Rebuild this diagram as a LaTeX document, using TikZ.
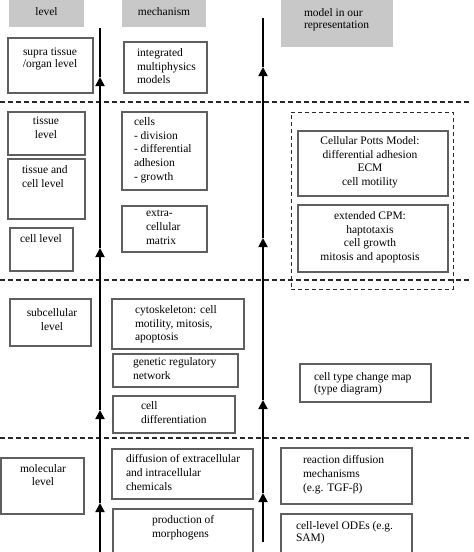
\documentclass[tikz,border=0pt]{standalone}
\usepackage{fontspec}
\setmainfont{Liberation Serif}
\usetikzlibrary{arrows.meta}
\definecolor{hdrgray}{RGB}{200,200,200}
\definecolor{boxgray}{RGB}{95,95,95}
\definecolor{dashgray}{RGB}{40,40,40}
\begin{document}
\begin{tikzpicture}[x=1pt,y=-1pt,
  every node/.style={inner sep=0pt,outer sep=0pt},
  box/.style={draw=boxgray,line width=1.1pt,anchor=north west},
  hdr/.style={fill=hdrgray,anchor=north west},
  txt/.style={font=\fontsize{11.5}{13.8}\selectfont,align=left,anchor=north west,execute at begin node={\strut}},
  ctxt/.style={font=\fontsize{11.5}{13.8}\selectfont,align=center,anchor=north,execute at begin node={\strut}},
  tight/.style={font=\fontsize{11.5}{12}\selectfont},
  sep/.style={draw=dashgray,line width=1.2pt,dash pattern=on 5pt off 3pt},
  cont/.style={draw=dashgray,line width=1pt,dash pattern=on 4pt off 3pt,anchor=north west},
  axisline/.style={line width=1.8pt},
  axis/.style={line width=1.8pt,-{Triangle[width=9pt,length=9pt]}}
]
\useasboundingbox (0,0) rectangle (474,552);
\clip (0,0) rectangle (474,552);

% separators
\coordinate (s1a) at (0,102); \coordinate (s1b) at (471,102);
\coordinate (s2a) at (0,280); \coordinate (s2b) at (471,280);
\coordinate (s3a) at (0,438); \coordinate (s3b) at (471,438);
\draw[sep] (s1a) -- (s1b);
\draw[sep] (s2a) -- (s2b);
\draw[sep] (s3a) -- (s3b);

% headers
\node[hdr,minimum width=75pt,minimum height=27pt] (hlev) at (9,0) {};
\node[ctxt] (hlevt) at (46.5,6.3) {level};
\node[hdr,minimum width=84pt,minimum height=27pt] (hmech) at (122,0) {};
\node[ctxt] (hmecht) at (164,6.3) {mechanism};
\node[hdr,minimum width=112pt,minimum height=47pt] (hmod) at (281,0) {};
\node[txt,tight] (hmodt) at (304,8.6) {model in our\\representation};

% level column
\node[box,minimum width=85pt,minimum height=55pt] (supra) at (8,38) {};
\node[ctxt,tight] (suprat) at (50,47.6) {supra tissue\\/organ level};
\node[box,minimum width=77pt,minimum height=43pt] (tissue) at (8,112) {};
\node[ctxt] (tissuet) at (46,117.3) {tissue\\level};
\node[box,minimum width=77pt,minimum height=60pt] (tcell) at (8,159) {};
\node[txt] (tcellt) at (22,165.3) {tissue and\\cell level};
\node[box,minimum width=63pt,minimum height=43pt] (cell) at (10,228) {};
\node[txt] (cellt) at (20,233.3) {cell level};
\node[box,minimum width=81pt,minimum height=47pt] (subc) at (10,299) {};
\node[ctxt] (subct) at (52,308.3) {subcellular\\level};
\node[box,minimum width=83pt,minimum height=56pt] (molec) at (1,458) {};
\node[ctxt,font=\fontsize{11.5}{13}\selectfont] (molect) at (43,464.3) {molecular\\level};

% mechanism column
\node[box,minimum width=83pt,minimum height=51pt] (integ) at (124,42) {};
\node[txt] (integt) at (137,48.3) {integrated\\multiphysics\\models};
\node[box,minimum width=85pt,minimum height=78pt] (cells) at (122,112) {};
\node[txt] (cellst) at (134,117.3) {cells\\- division\\- differential\\adhesion\\- growth};
\node[box,minimum width=85pt,minimum height=46pt] (ecm) at (122,206) {};
\node[txt] (ecmt) at (146,210.3) {extra-\\cellular\\matrix};
\node[box,minimum width=132pt,minimum height=50pt] (cyto) at (112,299) {};
\node[txt] (cytot) at (135,305.3) {cytoskeleton: cell\\motility, mitosis,\\apoptosis};
\node[box,minimum width=125pt,minimum height=33pt] (grn) at (113,354) {};
\node[txt] (grnt) at (133,357.3) {genetic regulatory\\network};
\node[box,minimum width=122pt,minimum height=37pt] (cdiff) at (113,396) {};
\node[txt] (cdifft) at (141,401.3) {cell\\differentiation};
\node[box,minimum width=141pt,minimum height=50pt] (chem) at (112,449) {};
\node[txt] (chemt) at (126,454.3) {diffusion of extracellular\\and intracellular\\chemicals};
\node[box,minimum width=140pt,minimum height=60pt] (morph) at (113,509) {};
\node[txt] (morpht) at (152,515.3) {production of\\morphogens};

% model column
\node[cont,minimum width=162pt,minimum height=177pt] (cpmgroup) at (291,112) {};
\node[box,minimum width=150pt,minimum height=65pt] (cpm) at (298,131) {};
\node[ctxt] (cpmt) at (370,136.3) {Cellular Potts Model:\\differential adhesion\\ECM\\cell motility};
\node[box,minimum width=150pt,minimum height=67pt] (ecpm) at (298,205) {};
\node[ctxt] (ecpmt) at (370,211.3) {extended CPM:\\haptotaxis\\cell growth\\mitosis and apoptosis};
\node[box,minimum width=131pt,minimum height=38pt] (ctmap) at (300,364) {};
\node[txt,tight] (ctmapt) at (314,372.6) {cell type change map\\(type diagram)};
\node[box,minimum width=131pt,minimum height=56pt] (rd) at (281,448) {};
\node[txt] (rdt) at (303,455.3) {reaction diffusion\\mechanisms\\(e.g. TGF-β)};
\node[box,minimum width=131pt,minimum height=60pt] (ode) at (281,514) {};
\node[txt,tight] (odet) at (296,521.6) {cell-level ODEs (e.g.\\SAM)};

% vertical scale arrows
\coordinate (Lb) at (100,552); \coordinate (L1) at (100,503);
\coordinate (L2) at (100,410); \coordinate (L3) at (100,248);
\coordinate (L4) at (100,77);  \coordinate (Lt) at (100,28);
\draw[axis] (Lb) -- (L1);
\draw[axis] (L1) -- (L2);
\draw[axis] (L2) -- (L3);
\draw[axis] (L3) -- (L4);
\draw[axisline] (L4) -- (Lt);
\coordinate (Rb) at (263,542); \coordinate (R1) at (263,493);
\coordinate (R2) at (263,400); \coordinate (R3) at (263,238);
\coordinate (R4) at (263,67);  \coordinate (Rt) at (263,18);
\draw[axis] (Rb) -- (R1);
\draw[axis] (R1) -- (R2);
\draw[axis] (R2) -- (R3);
\draw[axis] (R3) -- (R4);
\draw[axisline] (R4) -- (Rt);
\end{tikzpicture}
\end{document}
